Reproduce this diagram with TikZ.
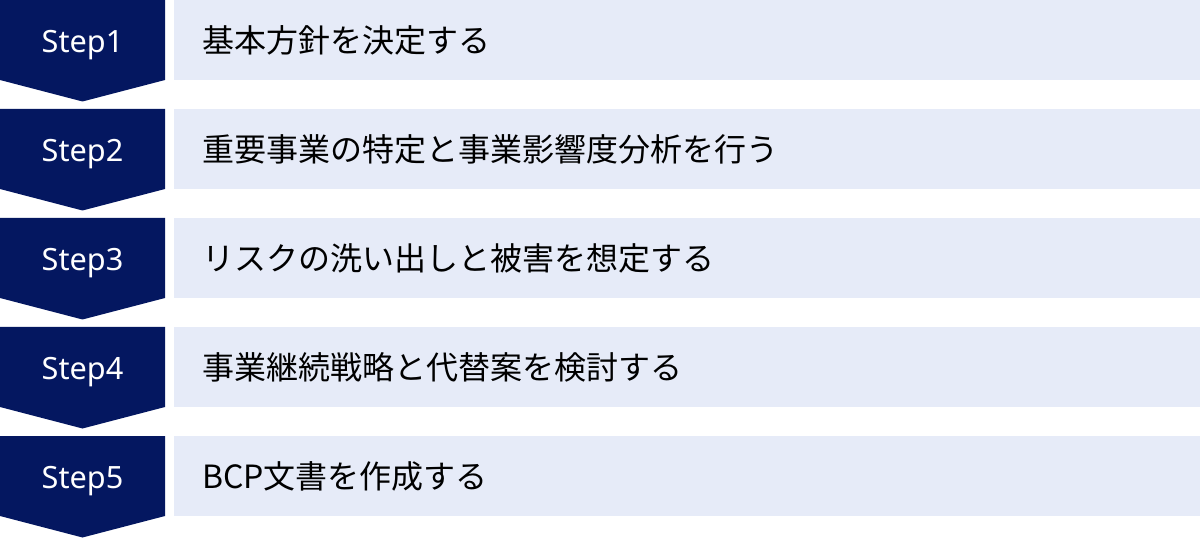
\documentclass[tikz,border=0pt]{standalone}
\usepackage{fontspec}
\setmainfont{Noto Sans CJK JP}
\newfontfamily\stepfont{Noto Sans}
\usetikzlibrary{positioning}
\definecolor{stepnavy}{RGB}{4,23,96}
\definecolor{taskpale}{RGB}{230,235,248}
\tikzstyle{StepMark} = [fill=stepnavy]
\tikzstyle{StepLabel} = [text=white, inner sep=0, anchor=base,
font=\stepfont\fontsize{23}{26}\selectfont]
\tikzstyle{TaskBox} = [fill=taskpale, inner sep=0, anchor=north west,
minimum width=769.5pt, minimum height=60pt]
\tikzstyle{TaskText} = [inner sep=0, anchor=west,
font=\fontsize{24}{27}\selectfont]

\begin{document}
\begin{tikzpicture}[x=0.75pt, y=-0.75pt]
   \useasboundingbox (0,0) rectangle (1200,538);

   % step markers
   \fill [StepMark] (0,0) -- (165,0) -- (165,80) -- (82.5,101.5) -- (0,80) -- cycle;
   \fill [StepMark] (0,109) -- (165,109) -- (165,189) -- (82.5,210.5) -- (0,189) -- cycle;
   \fill [StepMark] (0,218) -- (165,218) -- (165,298) -- (82.5,319.5) -- (0,298) -- cycle;
   \fill [StepMark] (0,327) -- (165,327) -- (165,407) -- (82.5,428.5) -- (0,407) -- cycle;
   \fill [StepMark] (0,436) -- (165,436) -- (165,516) -- (82.5,537.5) -- (0,516) -- cycle;

   \node [StepLabel] (s1) at (82.5,52.3) {Step1};
   \node [StepLabel] (s2) at (82.5,161.3) {Step2};
   \node [StepLabel] (s3) at (82.5,270.3) {Step3};
   \node [StepLabel] (s4) at (82.5,379.3) {Step4};
   \node [StepLabel] (s5) at (82.5,488.3) {Step5};

   % task boxes
   \node [TaskBox] (b1) at (174,0) {};
   \node [TaskBox] (b2) at (174,109) {};
   \node [TaskBox] (b3) at (174,218) {};
   \node [TaskBox] (b4) at (174,327) {};
   \node [TaskBox] (b5) at (174,436) {};

   \node [TaskText, right=21pt of b1.west] (t1) {基本方針を決定する};
   \node [TaskText, right=21pt of b2.west] (t2) {重要事業の特定と事業影響度分析を行う};
   \node [TaskText, right=21pt of b3.west] (t3) {リスクの洗い出しと被害を想定する};
   \node [TaskText, right=21pt of b4.west] (t4) {事業継続戦略と代替案を検討する};
   \node [TaskText, right=21pt of b5.west] (t5) {BCP文書を作成する};
\end{tikzpicture}
\end{document}
